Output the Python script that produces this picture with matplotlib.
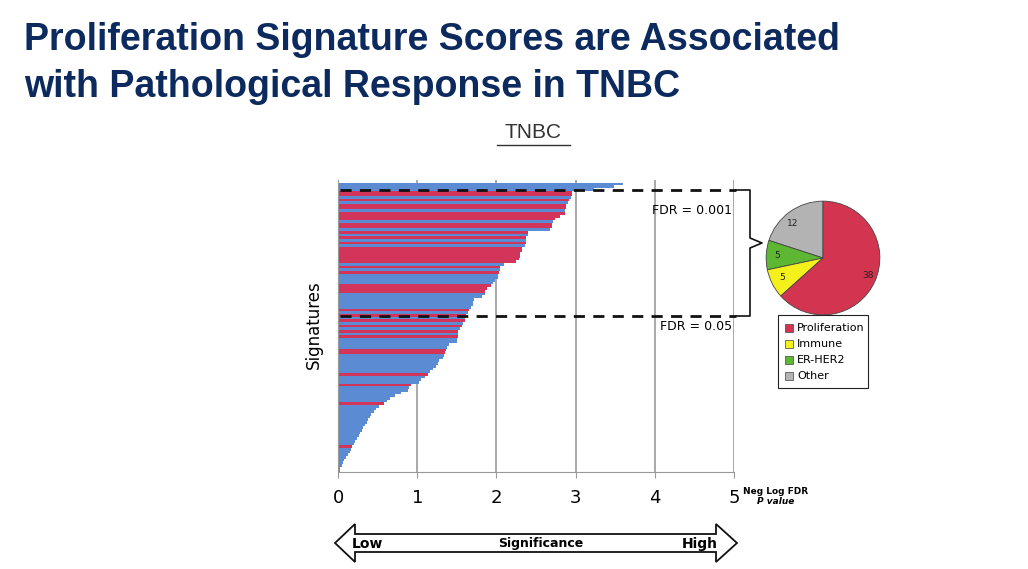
import matplotlib
matplotlib.use("Agg")
import matplotlib.pyplot as plt
from matplotlib.patches import Rectangle, Polygon
from matplotlib.lines import Line2D

# Signature bars, top to bottom: neg log FDR values and category (P=proliferation, O=other)
values = [3.60, 3.48, 3.23, 2.96, 2.96, 2.94, 2.92, 2.90, 2.88, 2.88, 2.86, 2.86,
          2.80, 2.74, 2.72, 2.70, 2.70, 2.68, 2.40, 2.40, 2.38, 2.38, 2.38, 2.36,
          2.32, 2.32, 2.30, 2.30, 2.28, 2.25, 2.10, 2.05, 2.04, 2.03, 2.02, 2.02,
          1.98, 1.96, 1.93, 1.88, 1.86, 1.85, 1.82, 1.72, 1.70, 1.70, 1.68, 1.66,
          1.64, 1.62, 1.60, 1.60, 1.58, 1.56, 1.54, 1.52, 1.52, 1.52, 1.50, 1.50,
          1.40, 1.38, 1.36, 1.35, 1.34, 1.32, 1.28, 1.26, 1.24, 1.20, 1.16, 1.14,
          1.10, 1.05, 1.02, 0.92, 0.90, 0.88, 0.80, 0.72, 0.66, 0.62, 0.58, 0.52,
          0.48, 0.45, 0.42, 0.40, 0.38, 0.36, 0.34, 0.32, 0.30, 0.28, 0.26, 0.24,
          0.22, 0.20, 0.18, 0.17, 0.15, 0.12, 0.10, 0.08, 0.06, 0.05, 0.03, 0.02]
cats = list("OOOPPOPOPPOP"
            "PPOPPO" "POPOPO"
            "PPPPPP" "OPOPOO"
            "OOPPPO" "OOOOOP"
            "OPOPOP" "OPOPOO"
            "OOPPOO" "OOOOOP"
            "OOOPOO" "OOOOPO"
            "OOOOOO" "OOOOOO"
            "OOPOOO" "OOOOOO")
x_ticks = [0, 1, 2, 3, 4, 5]
pie_labels = ["Other", "ER-HER2", "Immune", "Proliferation"]
pie_counts = [12, 5, 5, 38]
legend_labels = ["Proliferation", "Immune", "ER-HER2", "Other"]

colors = {"P": "#d3345a", "O": "#5b8bd3"}
pie_colors = {"Proliferation": "#d3344f", "Immune": "#f4f01c", "ER-HER2": "#5db733", "Other": "#b3b3b3"}
navy = "#0c2a5e"

W, H = 1028, 569
fig = plt.figure(figsize=(W / 100, H / 100), dpi=100)
def fx(px): return px / W
def fy(py): return 1 - py / H

for txt, py in (("Proliferation Signature Scores are Associated", 40),
                ("with Pathological Response in TNBC", 87)):
    fig.text(fx(24), fy(py), txt, fontsize=27, fontweight="bold", color=navy, va="center",
             ha="left", family="Liberation Sans")
fig.text(fx(533), fy(133), "TNBC", fontsize=15, ha="center", va="center", color="#333333",
         family="Liberation Sans")
fig.add_artist(Line2D([fx(497), fx(570)], [fy(145), fy(145)], color="#333333", lw=1))

ax = fig.add_axes([fx(338), fy(472), fx(734) - fx(338), fy(180) - fy(472)])
n = len(values)
ys = list(range(n))[::-1]
ax.barh(ys, values, height=1.0, color=[colors[c] for c in cats], linewidth=0)
ax.set_xlim(0, 5)
ax.set_ylim(-0.5, n + 0.5)
ax.set_xticks(x_ticks)
ax.set_xticklabels([str(t) for t in x_ticks], fontsize=13)
ax.set_yticks([])
ax.xaxis.grid(True, color="#999999", lw=1.2)
ax.set_axisbelow(True)
for s in ["top", "right"]:
    ax.spines[s].set_visible(False)
ax.spines["left"].set_color("#999999")
ax.spines["bottom"].set_color("#999999")
ax.tick_params(axis="x", length=4, color="#999999", pad=8)

fig.text(fx(314), fy(325), "Signatures", rotation=90, fontsize=12, ha="center", va="center")
fig.text(fx(776), fy(492), "Neg Log FDR", fontsize=6.5, fontweight="bold", ha="center", va="center")
fig.text(fx(776), fy(502), "P value", fontsize=6.5, fontweight="bold", style="italic", ha="center", va="center")

for py in (190, 316):
    fig.add_artist(Line2D([fx(340), fx(736)], [fy(py), fy(py)], color="#111111", lw=2, ls=(0, (4, 3))))
fig.text(fx(732), fy(210), "FDR = 0.001", fontsize=9, ha="right", va="center")
fig.text(fx(732), fy(327), "FDR = 0.05", fontsize=9, ha="right", va="center")
fig.add_artist(Line2D([fx(736), fx(750), fx(750), fx(762), fx(750), fx(750), fx(736)],
                      [fy(190), fy(190), fy(238), fy(243), fy(248), fy(316), fy(316)],
                      color="#111111", lw=1.2))

# pie
pax = fig.add_axes([fx(764), fy(316), fx(118), fy(200) - fy(316)])
wedges, texts = pax.pie(pie_counts, colors=[pie_colors[l] for l in pie_labels], startangle=90,
                        labels=[str(c) for c in pie_counts], labeldistance=0.75, radius=1.0,
                        wedgeprops=dict(edgecolor="#444444", linewidth=0.6),
                        textprops=dict(fontsize=6.5, color="#222222"))
pax.set_xlim(-1.02, 1.02); pax.set_ylim(-1.02, 1.02)
pax.set_aspect("equal")

fig.add_artist(Rectangle((fx(778), fy(388)), fx(90), fy(315) - fy(388), fill=False, edgecolor="#222222", lw=0.8))
for i, lab in enumerate(legend_labels):
    py = 328 + i * 16
    fig.add_artist(Rectangle((fx(785), fy(py + 4)), fx(8), fy(py - 4) - fy(py + 4),
                             facecolor=pie_colors[lab], edgecolor="#444444", lw=0.5))
    fig.text(fx(797), fy(py), lab, fontsize=8, ha="left", va="center")

# double-headed significance arrow
pts = [(335, 543), (355, 524), (355, 534), (716, 534), (716, 524), (737, 543),
       (716, 562), (716, 552), (355, 552), (355, 562)]
fig.add_artist(Polygon([(fx(x), fy(y)) for x, y in pts], closed=True, facecolor="white",
                       edgecolor="#111111", lw=1.3, transform=fig.transFigure))
fig.text(fx(352), fy(544), "Low", fontsize=10, fontweight="bold", ha="left", va="center")
fig.text(fx(541), fy(544), "Significance", fontsize=9, fontweight="bold", ha="center", va="center")
fig.text(fx(718), fy(544), "High", fontsize=10, fontweight="bold", ha="right", va="center")

fig.savefig("out.png", dpi=100)
